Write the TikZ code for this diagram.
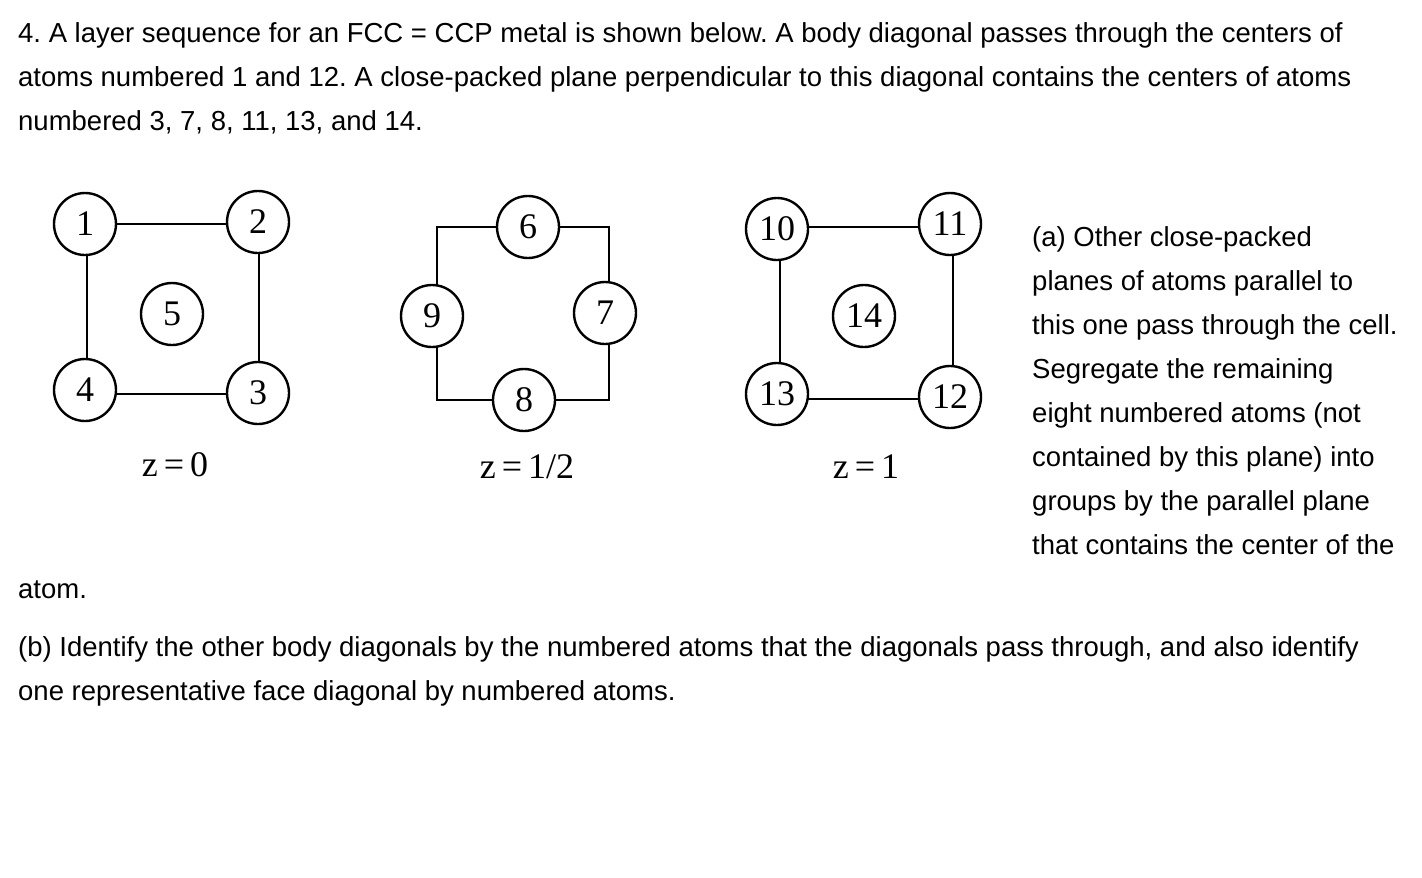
\documentclass[tikz,border=0pt]{standalone}
\usepackage{fontspec}
\setmainfont{Liberation Sans}
\newfontfamily\serif{Liberation Serif}
\frenchspacing
\begin{document}
\begin{tikzpicture}[x=1pt,y=-1pt,
  atom/.style={circle,draw,line width=2.4pt,fill=white,minimum size=62pt,inner sep=0pt,font=\serif\fontsize{36}{36}\selectfont},
  edge/.style={line width=2.4pt},
  txt/.style={anchor=base west,inner sep=0pt,font=\fontsize{27.5}{27.5}\selectfont},
  zl/.style={inner sep=0pt,font=\serif\fontsize{36}{36}\selectfont}]
\useasboundingbox (0,0) rectangle (1422,878);
\node[txt] (t1) at (18,42) {4. A layer sequence for an FCC = CCP metal is shown below. A body diagonal passes through the centers of};
\node[txt] (t2) at (18,86) {atoms numbered 1 and 12. A close-packed plane perpendicular to this diagonal contains the centers of atoms};
\node[txt] (t3) at (18,130) {numbered 3, 7, 8, 11, 13, and 14.};
% layer z=0
\coordinate (a1) at (87,224); \coordinate (a3) at (259,394);
\draw[edge] (a1) rectangle (a3);
\node[atom] (n1) at (85,224) {1};
\node[atom] (n2) at (258,222) {2};
\node[atom] (n5) at (172,314) {5};
\node[atom] (n4) at (85,390) {4};
\node[atom] (n3) at (258,393) {3};
\node[zl] (z0) at (175,465) {z\,=\,0};
% layer z=1/2
\coordinate (b1) at (437,227); \coordinate (b3) at (609,400);
\draw[edge] (b1) rectangle (b3);
\node[atom] (n6) at (528,227) {6};
\node[atom] (n9) at (432,316) {9};
\node[atom] (n7) at (605,313) {7};
\node[atom] (n8) at (524,400) {8};
\node[zl] (zh) at (527,467) {z\,=\,1/2};
% layer z=1
\coordinate (c1) at (780,227); \coordinate (c3) at (953,399);
\draw[edge] (c1) rectangle (c3);
\node[atom] (n10) at (777,229) {10};
\node[atom] (n11) at (950,224) {11};
\node[atom] (n14) at (864,316) {14};
\node[atom] (n13) at (777,394) {13};
\node[atom] (n12) at (950,397) {12};
\node[zl] (z1) at (866,467) {z\,=\,1};
% right text
\node[txt] (r1) at (1032,246) {(a) Other close-packed};
\node[txt] (r2) at (1032,290) {planes of atoms parallel to};
\node[txt] (r3) at (1032,334) {this one pass through the cell.};
\node[txt] (r4) at (1032,378) {Segregate the remaining};
\node[txt] (r5) at (1032,422) {eight numbered atoms (not};
\node[txt] (r6) at (1032,466) {contained by this plane) into};
\node[txt] (r7) at (1032,510) {groups by the parallel plane};
\node[txt] (r8) at (1032,554) {that contains the center of the};
\node[txt] (r9) at (18,598) {atom.};
\node[txt] (b1t) at (18,656) {(b) Identify the other body diagonals by the numbered atoms that the diagonals pass through, and also identify};
\node[txt] (b2t) at (18,700) {one representative face diagonal by numbered atoms.};
\end{tikzpicture}
\end{document}
